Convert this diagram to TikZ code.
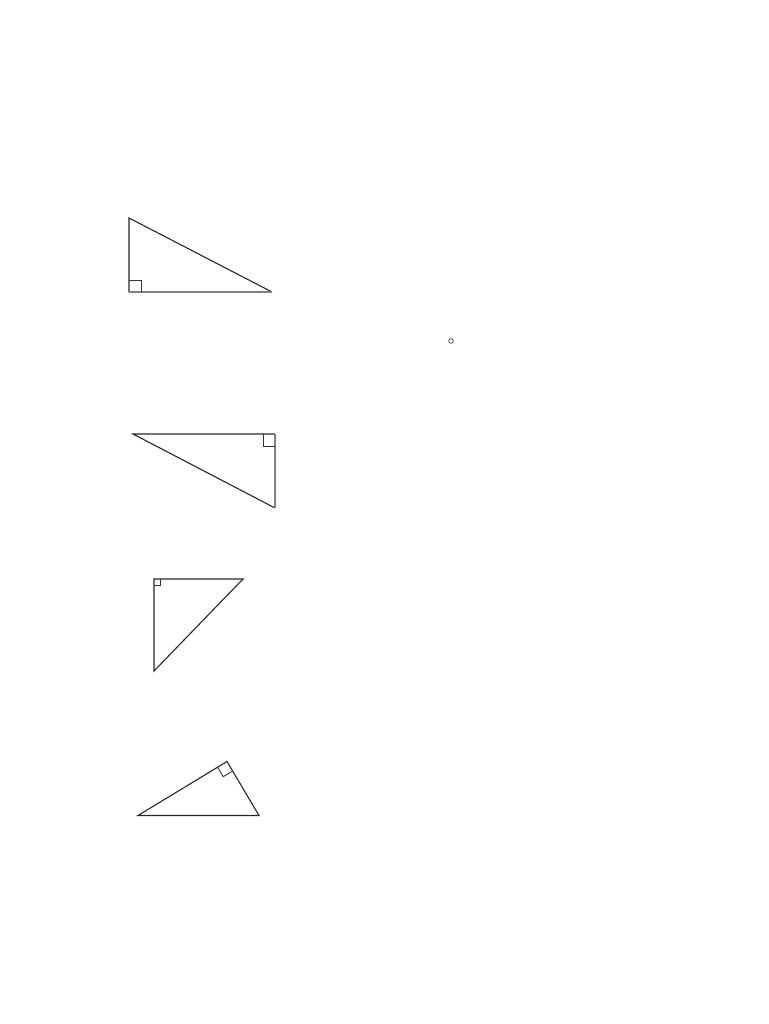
\documentclass[tikz,border=0pt]{standalone}
\usetikzlibrary{calc}
\begin{document}
\begin{tikzpicture}[x=1pt,y=-1pt,
  edge/.style={draw=black!85,line width=1.1pt,line join=miter},
  light/.style={draw=black!50,line width=1.1pt},
  mark90/.style={draw=black!80,line width=0.9pt}]
\useasboundingbox (0,0) rectangle (768,1024);
% triangle 1
\coordinate (a1) at (129,218);
\coordinate (b1) at (129,292);
\coordinate (c1) at (272,292);
\draw[edge] (b1) -- (a1) -- (c1);
\draw[light] (b1) -- (c1);
\draw[mark90] ($(b1)+(0,-12)$) -- ++(12,0) -- ++(0,12);
% small ring
\coordinate (o) at (451,341);
\draw[black!70,line width=0.8pt] (o) circle (2.3);
% triangle 2
\coordinate (a2) at (133,434);
\coordinate (b2) at (275,434);
\coordinate (c2) at (275,508);
\draw[edge] (c2) -- (a2) -- (b2);
\draw[light] (b2) -- (c2);
\draw[mark90] ($(b2)+(-12,0)$) -- ++(0,12) -- ++(12,0);
% triangle 3
\coordinate (a3) at (154,579);
\coordinate (b3) at (243,579);
\coordinate (c3) at (154,671);
\draw[edge] (a3) -- (b3) -- (c3) -- cycle;
\draw[mark90] ($(a3)+(6,0)$) -- ++(0,6) -- ++(-6,0);
% triangle 4
\coordinate (l4) at (138,815.5);
\coordinate (r4) at (259,815.5);
\coordinate (p4) at (227,761.5);
\draw[edge] (l4) -- (r4) -- (p4) -- cycle;
\draw[mark90] ($(p4)!11pt!(l4)$) -- ($($(p4)!11pt!(l4)$)+($(p4)!11pt!(r4)$)-(p4)$) -- ($(p4)!11pt!(r4)$);
\end{tikzpicture}
\end{document}
